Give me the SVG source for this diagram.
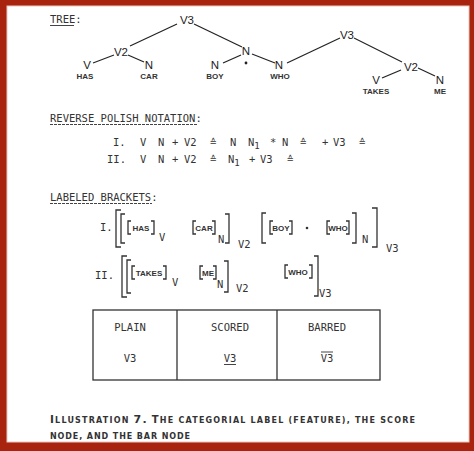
<svg xmlns="http://www.w3.org/2000/svg" width="474" height="451" viewBox="0 0 474 451">
<style>
.tw{font-family:"DejaVu Sans Mono","Liberation Mono",monospace;font-size:10.5px;fill:#333}
.tl{font-family:"Liberation Sans","DejaVu Sans",sans-serif;font-size:11.5px;fill:#222;text-anchor:middle}
.wd{font-family:"Liberation Sans","DejaVu Sans",sans-serif;font-size:8px;font-weight:bold;fill:#333;text-anchor:middle}
.ln{stroke:#222;stroke-width:1.2;fill:none}
.br{stroke:#333;stroke-width:1.3;fill:none}
.sb{stroke:#444;stroke-width:1;fill:none}
.cap{font-family:"DejaVu Sans","Liberation Sans",sans-serif;font-weight:bold;fill:#333}
</style>
<rect x="0" y="0" width="474" height="451" fill="#a8240f"/>
<rect x="7" y="6" width="462" height="436" fill="#fff" stroke="#e7c7c0" stroke-width="1"/>

<!-- Tree -->
<g id="tree-title"><text class="tw" x="50" y="23">TREE:</text><line class="sb" x1="50" y1="25.5" x2="74" y2="25.5"/></g>
<g id="connectors">
<line class="ln" x1="177" y1="24" x2="130" y2="46"/>
<line class="ln" x1="194" y1="24" x2="242" y2="47"/>
<line class="ln" x1="114" y1="55" x2="93" y2="63"/>
<line class="ln" x1="128" y1="55" x2="144" y2="62"/>
<line class="ln" x1="241" y1="55" x2="223" y2="63"/>
<line class="ln" x1="252" y1="54" x2="275" y2="63"/>
<line class="ln" x1="287" y1="63" x2="340" y2="38"/>
<line class="ln" x1="354" y1="38" x2="402" y2="62"/>
<line class="ln" x1="401" y1="70" x2="382" y2="78"/>
<line class="ln" x1="418" y1="68" x2="435" y2="76"/>
</g>
<g id="n-v3a"><text class="tl" x="187" y="24">V3</text></g>
<g id="n-v2a"><text class="tl" x="121" y="56">V2</text></g>
<g id="n-v-has"><text class="tl" x="87" y="68.5">V</text><text class="wd" x="85" y="78.5">HAS</text></g>
<g id="n-n-car"><text class="tl" x="149" y="68.5">N</text><text class="wd" x="149" y="78.5">CAR</text></g>
<g id="n-n-mid"><text class="tl" x="246" y="55">N</text><circle cx="246" cy="63" r="1.4" fill="#222"/></g>
<g id="n-n-boy"><text class="tl" x="215" y="68.5">N</text><text class="wd" x="215" y="78.5">BOY</text></g>
<g id="n-n-who"><text class="tl" x="279" y="68.5">N</text><text class="wd" x="280" y="78.5">WHO</text></g>
<g id="n-v3b"><text class="tl" x="347" y="39">V3</text></g>
<g id="n-v2b"><text class="tl" x="411" y="71">V2</text></g>
<g id="n-v-takes"><text class="tl" x="376" y="83.5">V</text><text class="wd" x="376" y="93.5">TAKES</text></g>
<g id="n-n-me"><text class="tl" x="440" y="83.5">N</text><text class="wd" x="440" y="93.5">ME</text></g>

<!-- RPN -->
<g id="rpn">
<text class="tw" x="50" y="122">REVERSE POLISH NOTATION:</text>
<line class="sb" x1="50" y1="124.5" x2="198" y2="124.5" stroke-dasharray="3 1"/>
<text class="tw" x="113" y="146">I.</text>
<text class="tw" x="140" y="146">V</text>
<text class="tw" x="158" y="146">N</text>
<text class="tw" x="172" y="146">+</text>
<text class="tw" x="184" y="146">V2</text>
<text class="tw" x="210" y="146">≙</text>
<text class="tw" x="230" y="146">N</text>
<text class="tw" x="248" y="146">N<tspan dy="3" font-size="9">1</tspan></text>
<text class="tw" x="270" y="146">*</text>
<text class="tw" x="282" y="146">N</text>
<text class="tw" x="300" y="146">≙</text>
<text class="tw" x="322" y="146">+</text>
<text class="tw" x="333" y="146">V3</text>
<text class="tw" x="359" y="146">≙</text>
<text class="tw" x="107" y="163">II.</text>
<text class="tw" x="140" y="163">V</text>
<text class="tw" x="158" y="163">N</text>
<text class="tw" x="172" y="163">+</text>
<text class="tw" x="184" y="163">V2</text>
<text class="tw" x="210" y="163">≙</text>
<text class="tw" x="228" y="163">N<tspan dy="3" font-size="9">1</tspan></text>
<text class="tw" x="249" y="163">+</text>
<text class="tw" x="260" y="163">V3</text>
<text class="tw" x="287" y="163">≙</text>
</g>

<!-- Labeled brackets -->
<g id="brackets">
<text class="tw" x="50" y="201">LABELED BRACKETS:</text>
<line class="sb" x1="50" y1="203.5" x2="152" y2="203.5" stroke-dasharray="3 1"/>
<text class="tw" x="100" y="231">I.</text>
<path class="br" d="M121,210 H116 V247 H121"/>
<path class="br" d="M125,214 H121 V243 H125"/>
<path class="br" d="M131,221 H128 V234 H131 M151,221 H154 V234 H151"/>
<text class="wd" x="141" y="231">HAS</text>
<text class="tw" x="159" y="241">V</text>
<path class="br" d="M196,221 H193 V234 H196 M212,221 H215 V234 H212"/>
<text class="wd" x="204" y="231">CAR</text>
<text class="tw" x="218" y="243">N</text>
<path class="br" d="M225,214 H229 V243 H225"/>
<text class="tw" x="238" y="248">V2</text>
<path class="br" d="M266,213 H262 V243 H266"/>
<path class="br" d="M273,221 H270 V234 H273 M289,221 H292 V234 H289"/>
<text class="wd" x="281" y="231">BOY</text>
<circle cx="307" cy="228" r="1.3" fill="#333"/>
<path class="br" d="M330,221 H327 V234 H330 M346,221 H349 V234 H346"/>
<text class="wd" x="338" y="231">WHO</text>
<path class="br" d="M352,213 H356 V243 H352"/>
<text class="tw" x="362" y="243">N</text>
<path class="br" d="M372,208 H377 V247 H372"/>
<text class="tw" x="386" y="252">V3</text>

<text class="tw" x="95" y="279">II.</text>
<path class="br" d="M127,256 H122 V297 H127"/>
<path class="br" d="M131,260 H127 V293 H131"/>
<path class="br" d="M135,266 H132 V279 H135 M163,266 H166 V279 H163"/>
<text class="wd" x="149" y="276">TAKES</text>
<text class="tw" x="172" y="286">V</text>
<path class="br" d="M203,266 H200 V279 H203 M213,266 H216 V279 H213"/>
<text class="wd" x="208" y="276">ME</text>
<text class="tw" x="217" y="288">N</text>
<path class="br" d="M224,261 H228 V292 H224"/>
<text class="tw" x="236" y="292">V2</text>
<path class="br" d="M288,265 H285 V278 H288 M309,265 H312 V278 H309"/>
<text class="wd" x="298" y="275">WHO</text>
<path class="br" d="M314,256 H318 V296 H314"/>
<text class="tw" x="319" y="297">V3</text>
</g>

<!-- Table -->
<g id="table">
<rect x="93" y="310" width="287" height="70" fill="none" stroke="#333" stroke-width="1.3"/>
<line x1="177" y1="310" x2="177" y2="380" stroke="#333" stroke-width="1.3"/>
<line x1="277" y1="310" x2="277" y2="380" stroke="#333" stroke-width="1.3"/>
<g id="cell-plain"><text class="tw" x="130" y="331" text-anchor="middle">PLAIN</text><text class="tw" x="130" y="362" text-anchor="middle">V3</text></g>
<g id="cell-scored"><text class="tw" x="230" y="331" text-anchor="middle">SCORED</text><text class="tw" x="230" y="362" text-anchor="middle">V3</text><line class="sb" x1="224" y1="364.5" x2="236" y2="364.5"/></g>
<g id="cell-barred"><text class="tw" x="327" y="331" text-anchor="middle">BARRED</text><text class="tw" x="327" y="362" text-anchor="middle">V3</text><line class="sb" x1="321" y1="352" x2="333" y2="352"/></g>
</g>

<!-- Caption -->
<g id="caption">
<text class="cap" x="50" y="423" font-size="8" textLength="365" lengthAdjust="spacing"><tspan font-size="10.5">I</tspan>LLUSTRATION <tspan font-size="11">7.</tspan>  <tspan font-size="10">T</tspan>HE CATEGORIAL LABEL (FEATURE), THE SCORE</text>
<text class="cap" x="50" y="439" font-size="8" textLength="140" lengthAdjust="spacing">NODE, AND THE BAR NODE</text>
</g>
</svg>
